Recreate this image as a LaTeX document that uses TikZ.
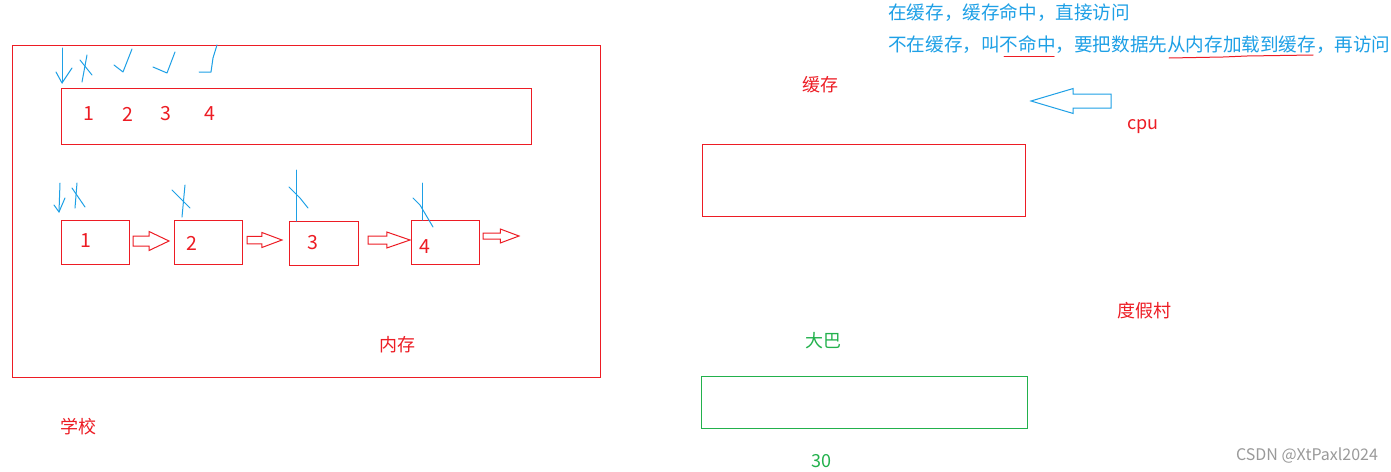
\documentclass[tikz,border=0pt]{standalone}
\usepackage{fontspec}
\setmainfont{Noto Sans CJK SC}
\usetikzlibrary{shapes.arrows,calc}
\definecolor{pred}{HTML}{ED1C24}
\definecolor{pblue}{HTML}{1EA0E6}
\definecolor{pgreen}{HTML}{22B14C}
\definecolor{wmgray}{HTML}{9A9A9A}
\begin{document}
\begin{tikzpicture}[x=1pt,y=-1pt,
  rbox/.style={draw=pred, line width=1pt, inner sep=0pt, outer sep=0pt},
  gbox/.style={draw=pgreen, line width=1pt, inner sep=0pt, outer sep=0pt},
  lbl/.style={inner sep=0pt, font=\fontsize{18}{20}\selectfont},
  redlbl/.style={lbl, text=pred},
  digit/.style={redlbl, font=\fontsize{19.5}{21}\selectfont},
  ink/.style={draw=pblue, line width=1pt, line join=round, line cap=round},
  redink/.style={draw=pred, line width=1pt, line join=round, line cap=round},
  harrow/.style={single arrow, draw=pred, line width=1pt, inner xsep=0pt, outer sep=0pt, anchor=tail}
]
\useasboundingbox (0,0) rectangle (1391,471);
\fill[white] (0,0) rectangle (1391,471);

% memory (left)
\node[rbox, minimum width=588pt, minimum height=332pt] (mem) at (306,211) {};
\node[rbox, minimum width=470pt, minimum height=56pt] (arr) at (296,116) {};
\node[digit] (n1) at (89,114) {1};
\node[digit] (n2) at (128,114) {2};
\node[digit] (n3) at (166,114) {3};
\node[digit] (n4) at (210,114) {4};

\node[rbox, minimum width=68pt, minimum height=44pt] (b1) at (95,242) {};
\node[rbox, minimum width=68pt, minimum height=44pt] (b2) at (208,242) {};
\node[rbox, minimum width=69pt, minimum height=44pt] (b3) at (323.5,243) {};
\node[rbox, minimum width=68pt, minimum height=44pt] (b4) at (445,242) {};
\node[digit] (l1) at (86,241) {1};
\node[digit] (l2) at (192,243) {2};
\node[digit] (l3) at (313,243) {3};
\node[digit] (l4) at (425,247) {4};

% hollow arrows between boxes
\node[harrow, inner ysep=4.5pt, single arrow head extend=4.5pt, single arrow tip angle=51, minimum height=36pt] (a1) at ($(b1.east)+(4,-1)$) {};
\node[harrow, inner ysep=3.25pt, single arrow head extend=3.75pt, single arrow tip angle=41, minimum height=35pt] (a2) at ($(b2.east)+(5,-2)$) {};
\node[harrow, inner ysep=3.5pt, single arrow head extend=4pt, single arrow tip angle=38, minimum height=42pt] (a3) at ($(b3.east)+(10,-3)$) {};
\node[harrow, inner ysep=2.5pt, single arrow head extend=4pt, single arrow tip angle=41, minimum height=36pt] (a4) at ($(b4.east)+(4,-6)$) {};

\node[redlbl] (neicun) at (397,345) {内存};
\node[redlbl] (xuexiao) at (78,427) {学校};

% blue handwritten marks over the array
\draw[ink] (62,48) -- (62,83);
\draw[ink] (56,72) -- (62,83) -- (72,68);
\draw[ink] (80,60) -- (92,75);
\draw[ink] (87,55) -- (82,82);
\draw[ink] (114,65) -- (123,72) -- (132,49);
\draw[ink] (153,67) -- (167,73) -- (175,52);
\draw[ink] (199,72) -- (211,72) -- (213,58) -- (217,45);

% blue marks over the list
\draw[ink] (60,183) -- (59,212);
\draw[ink] (54,205) -- (59,212) -- (65,198);
\draw[ink] (72,188) -- (85,207);
\draw[ink] (77,183) -- (75,208);
\draw[ink] (172,190) -- (190,208);
\draw[ink] (185,185) -- (182,217);
\draw[ink] (296,170) -- (296,221);
\draw[ink] (289,187) -- (300,198) -- (308,208);
\draw[ink] (422,183) -- (422,220);
\draw[ink] (413,198) -- (420,205) -- (433,227);

% right side
\node[lbl, text=pblue, anchor=west, font=\fontsize{18.6}{20}\selectfont] (t1) at (888,13) {在缓存，缓存命中，直接访问};
\node[lbl, text=pblue, anchor=west, font=\fontsize{18.6}{20}\selectfont] (t2) at (888,45) {不在缓存，叫不命中，要把数据先从内存加载到缓存，再访问};
\draw[redink] (1004,56) -- (1054,56);
\draw[redink] (1169,58) -- (1223,57) -- (1247,56) -- (1313,55);

\node[redlbl] (huancun) at (820,85) {缓存};
\node[rbox, minimum width=323pt, minimum height=72pt] (cache) at (863.5,180) {};
\node[harrow, draw=pblue, shape border rotate=180, inner ysep=6.5pt, single arrow head extend=5.5pt, single arrow tip angle=33, minimum height=80pt] (ca) at (1111,101) {};
\node[redlbl] (cpu) at (1143,127) {cpu};

\node[redlbl] (dujia) at (1144,311) {度假村};
\node[lbl, text=pgreen] (daba) at (823,341) {大巴};
\node[gbox, minimum width=326pt, minimum height=52pt] (bus) at (864,402) {};
\node[lbl, text=pgreen] (thirty) at (821,461) {30};

\node[lbl, text=wmgray, font=\fontsize{16}{18}\selectfont] (wm) at (1307,456) {CSDN @XtPaxl2024};
\end{tikzpicture}
\end{document}
